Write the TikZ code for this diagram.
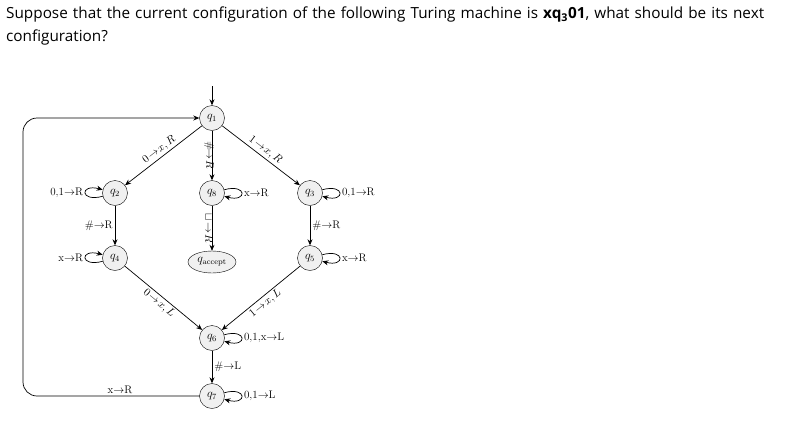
\documentclass[tikz,border=0pt]{standalone}
\usepackage{fontspec}
\newfontfamily\osans{Open Sans}
\usetikzlibrary{arrows.meta,automata,shapes.geometric}
\begin{document}
\begin{tikzpicture}[x=1pt,y=-1pt,
  st/.style={circle,draw,fill=gray!12,minimum size=25pt,inner sep=0pt,font=\fontsize{12}{14}\selectfont},
  e/.style={-{Stealth[length=6pt,width=5pt]},line width=0.7pt},
  lb/.style={font=\fontsize{11}{13}\selectfont,inner sep=2pt},
  every loop/.style={min distance=24pt,looseness=7}]
\useasboundingbox (0,0) rectangle (788,432);
\node[anchor=north west,text width=782pt,align=left,inner sep=0pt,font=\osans\fontsize{15.3}{23}\selectfont] (t) at (6,7)
 {Suppose that the current configuration of the following Turing machine is \textbf{xq\textsubscript{3}01}, what should be its next configuration?};
\node[st] (q1) at (212,118) {$q_1$};
\node[st] (q2) at (115,193) {$q_2$};
\node[st] (q8) at (212,193) {$q_8$};
\node[st] (q3) at (310,193) {$q_3$};
\node[st] (q4) at (115,258) {$q_4$};
\node[ellipse,draw,fill=gray!12,minimum width=48pt,minimum height=22pt,inner sep=0pt,font=\fontsize{12}{14}\selectfont] (qa) at (212,262) {$q_{\mathrm{accept}}$};
\node[st] (q5) at (310,258) {$q_5$};
\node[st] (q6) at (212,338) {$q_6$};
\node[st] (q7) at (212,396) {$q_7$};
\coordinate (in) at (212,86);
\coordinate (c1) at (23,396);
\coordinate (c2) at (23,118);
\draw[e] (in) -- (q1);
\draw[e] (q1) -- node[lb,sloped,above]{$0\!\to\!x,R$} (q2);
\draw[e] (q1) -- node[lb,sloped,above]{$1\!\to\!x,R$} (q3);
\draw[e] (q1) -- node[lb,rotate=-90,xshift=0pt,yshift=-3pt]{\#$\!\to\!R$} (q8);
\draw[e] (q8) -- node[lb,rotate=-90,yshift=-3pt]{$\sqcup\!\to\!R$} (qa);
\draw[e] (q2) -- node[lb,left]{\#$\to$R} (q4);
\draw[e] (q3) -- node[lb,right]{\#$\to$R} (q5);
\draw[e] (q4) -- node[lb,sloped,below]{$0\!\to\!x,L$} (q6);
\draw[e] (q5) -- node[lb,sloped,below]{$1\!\to\!x,L$} (q6);
\draw[e] (q6) -- node[lb,right]{\#$\to$L} (q7);
\draw[e] (q2) edge[loop left] node[lb,left]{0,1$\to$R} (q2);
\draw[e] (q4) edge[loop left] node[lb,left]{x$\to$R} (q4);
\draw[e] (q8) edge[loop right] node[lb,right]{x$\to$R} (q8);
\draw[e] (q3) edge[loop right] node[lb,right]{0,1$\to$R} (q3);
\draw[e] (q5) edge[loop right] node[lb,right]{x$\to$R} (q5);
\draw[e] (q6) edge[loop right] node[lb,right]{0,1,x$\to$L} (q6);
\draw[e] (q7) edge[loop right] node[lb,right]{0,1$\to$L} (q7);
\draw[e,rounded corners=14pt] (q7.west) -- node[lb,above,pos=0.45]{x$\to$R} (c1) -- (c2) -- (q1.west);
\end{tikzpicture}
\end{document}
